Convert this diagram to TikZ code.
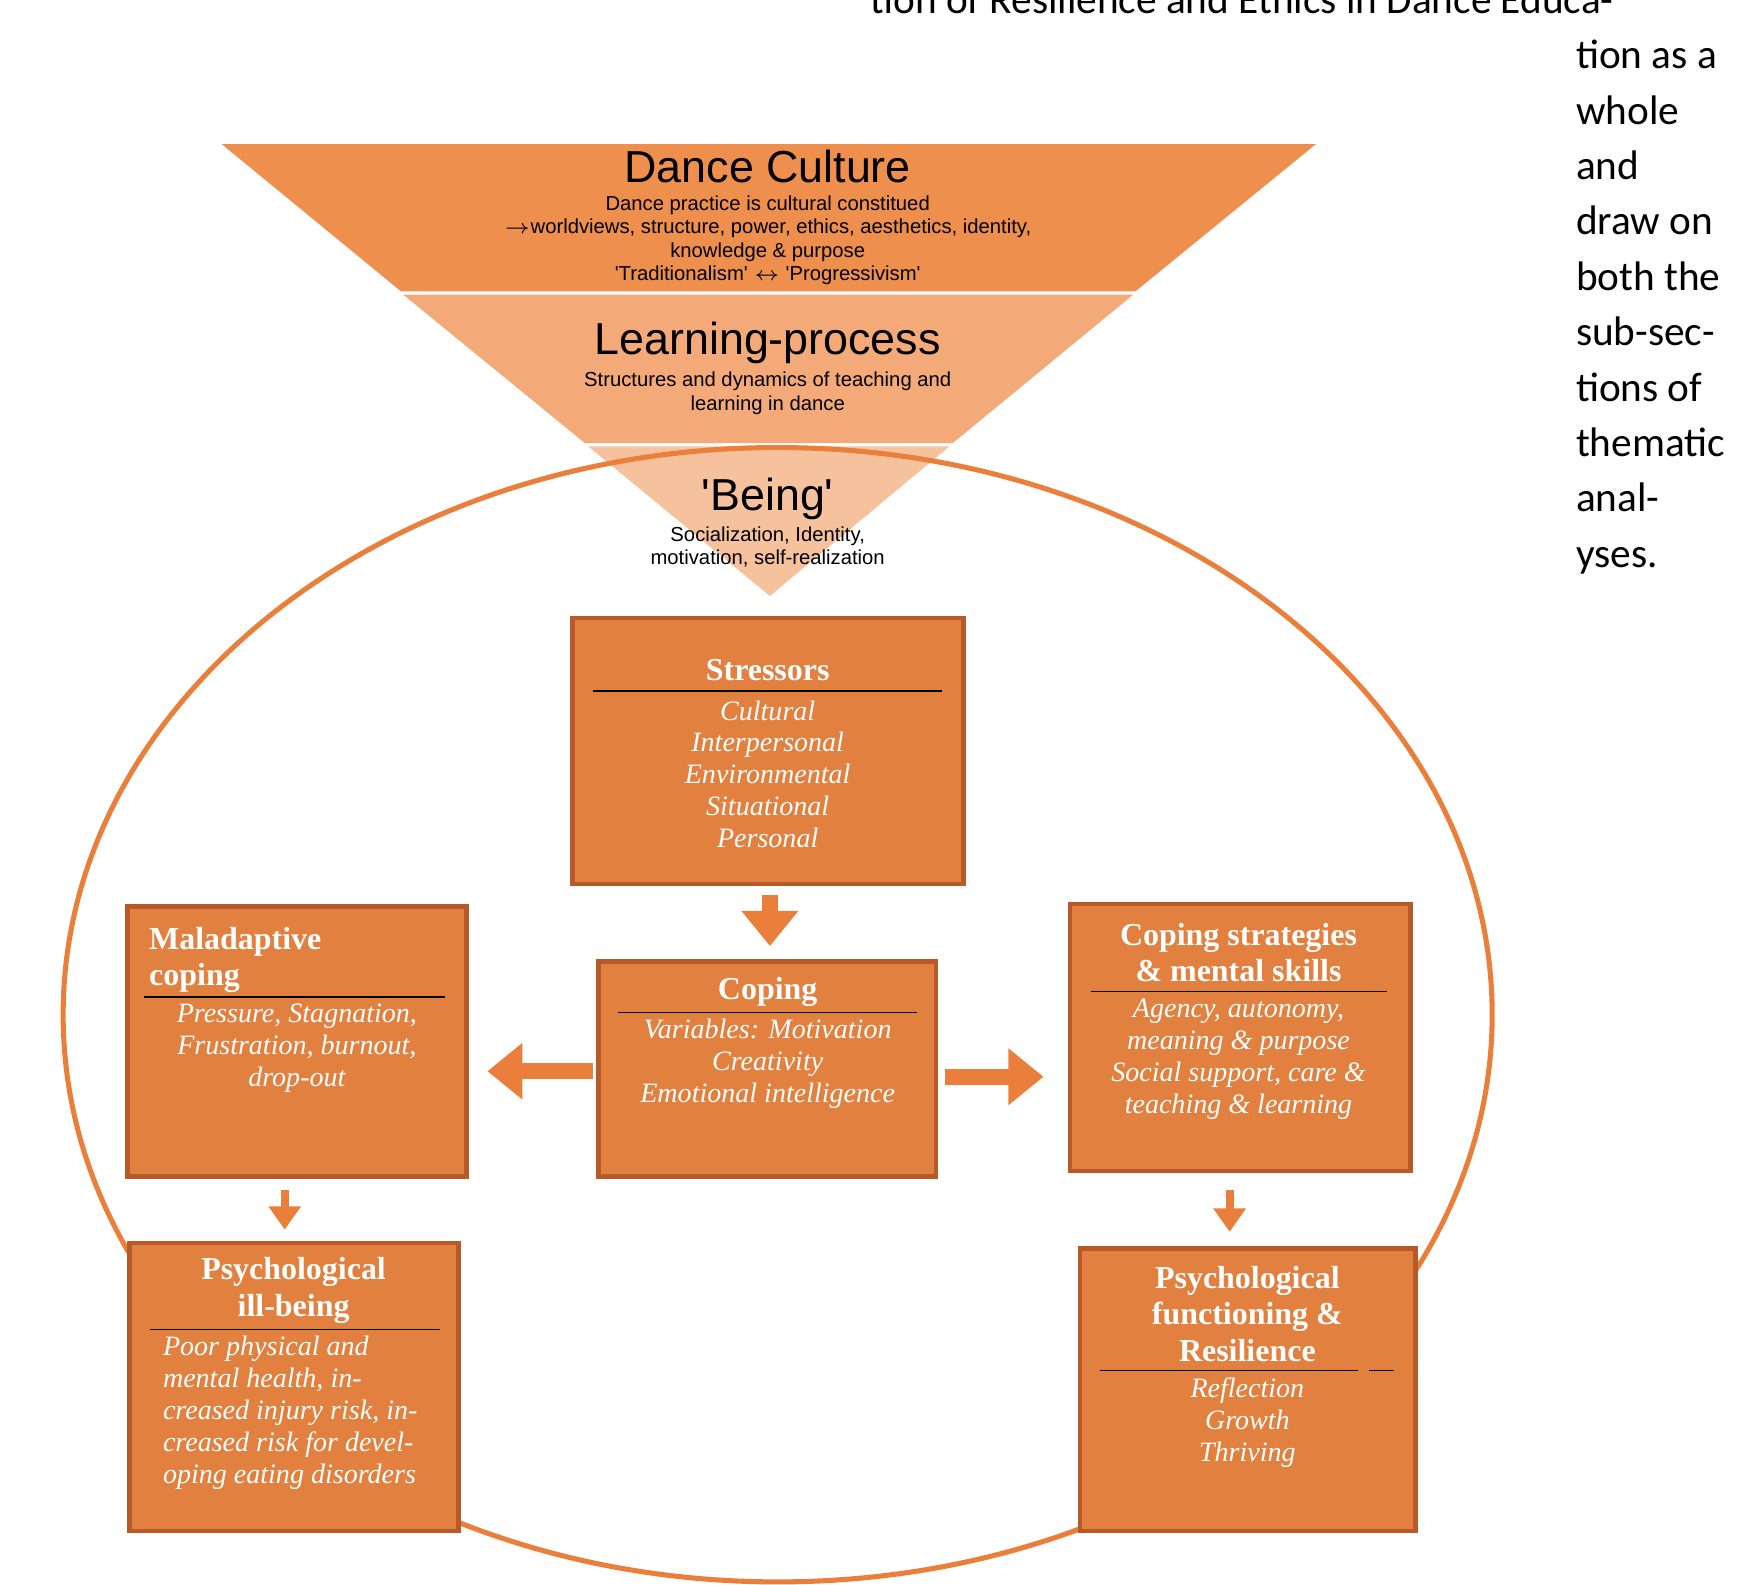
\documentclass[tikz,border=0pt]{standalone}
\usepackage{fontspec}
\setmainfont{Liberation Serif}
\newfontfamily\calfnt{Carlito}
\newfontfamily\ars{Liberation Sans}
\definecolor{boxfill}{HTML}{E2803F}
\definecolor{boxedge}{HTML}{B8592A}
\definecolor{band1}{HTML}{EE8F4E}
\definecolor{band2}{HTML}{F3AA78}
\definecolor{band3}{HTML}{F6C29E}
\definecolor{ring}{HTML}{E97F3A}
\usetikzlibrary{arrows.meta}
\tikzset{
 bx/.style={draw=boxedge,line width=1.2pt,fill=boxfill},
 ttl/.style={text=white,font=\fontsize{8.2}{9.4}\selectfont\bfseries,align=center,inner sep=0},
 itl/.style={text=white,font=\fontsize{7.2}{8.2}\selectfont\itshape,align=center,inner sep=0},
 hd/.style={font=\ars\fontsize{11.5}{13}\selectfont,inner sep=0},
 sm/.style={font=\ars\fontsize{5.2}{6}\selectfont,align=center,inner sep=0},
 rt/.style={font=\calfnt\fontsize{10.6}{14.2}\selectfont,anchor=base west,inner sep=0},
 bigar/.style={ring,line width=4pt,-{Triangle[length=9pt,width=14pt]}},
 thinar/.style={ring,line width=2pt,-{Triangle[length=6pt,width=8pt]}},
}
\begin{document}
\begin{tikzpicture}[x=0.01cm,y=-0.01cm]
\useasboundingbox (0,0) rectangle (1568,1430);
\clip (0,0) rectangle (1568,1430);
% top cut text
\node[rt] (cut) at (785,12) {tion of Resilience and Ethics in Dance Educa-};
\foreach \t [count=\i] in {tion as a,whole,and,draw on,both the,sub-sec-,tions of,thematic,anal-,yses.}
  \node[rt] (r\i) at (1422,50*\i+12) {\t};
% funnel
\fill[band1] (200,130) -- (1188,130) -- (1025,263) -- (362,263) -- cycle;
\fill[band2] (364,266) -- (1023,266) -- (860,400) -- (528,400) -- cycle;
\fill[band3] (531,403) -- (857,403) -- (695,538) -- cycle;
\node[hd] (dc) at (693,150) {Dance Culture};
\node[sm] (dct) at (693,217) {Dance practice is cultural constitued\\$\to$worldviews, structure, power, ethics, aesthetics, identity,\\knowledge \& purpose\\'Traditionalism' $\leftrightarrow$ 'Progressivism'};
\node[hd] (lp) at (693,310) {Learning-process};
\node[sm] (lpt) at (693,355) {Structures and dynamics of teaching and\\learning in dance};
\node[hd] (be) at (693,450) {'Being'};
\node[sm] (bet) at (693,494) {Socialization, Identity,\\motivation, self-realization};
% ellipse
\draw[ring,line width=1.3pt] (702,916) ellipse [x radius=645,y radius=512];
% boxes
\draw[bx] (517,558) rectangle (870,798);
\node[ttl] (st) at (693,605) {Stressors};
\draw (535,624) -- (850,624);
\node[itl] (stt) at (693,699) {Cultural\\Interpersonal\\Environmental\\Situational\\Personal};
\draw[bx] (540,868) rectangle (845,1062);
\node[ttl] (co) at (693,895) {Coping};
\draw (558,914) -- (828,914);
\node[itl] (cot) at (693,960) {Variables: Motivation\\Creativity\\Emotional intelligence};
\draw[bx] (115,818) rectangle (421,1062);
\node[ttl,align=left,anchor=north west] (ma) at (134,836) {Maladaptive\\coping};
\draw (130,900) -- (402,900);
\node[itl] (mat) at (268,946) {Pressure, Stagnation,\\Frustration, burnout,\\drop-out};
\draw[bx] (966,816) rectangle (1273,1057);
\node[ttl] (cs) at (1118,860) {Coping strategies\\\& mental skills};
\draw (985,895) -- (1252,895);
\node[itl] (cst) at (1118,956) {Agency, autonomy,\\meaning \& purpose\\Social support, care \&\\teaching \& learning};
\draw[bx] (117,1122) rectangle (414,1382);
\node[ttl] (pi) at (265,1165) {Psychological\\ill-being};
\draw (135,1200) -- (397,1200);
\node[itl,align=left] (pit) at (262,1275) {Poor physical and\\mental health, in-\\creased injury risk, in-\\creased risk for devel-\\oping eating disorders};
\draw[bx] (975,1127) rectangle (1278,1382);
\node[ttl] (pf) at (1126,1186) {Psychological\\functioning \&\\Resilience};
\draw (993,1237) -- (1226,1237); \draw (1236,1237) -- (1258,1237);
\node[itl] (pft) at (1126,1284) {Reflection\\Growth\\Thriving};
% arrows
\coordinate (a1) at (695,808); \coordinate (a2) at (695,854);
\draw[bigar] (a1) -- (a2);
\coordinate (b1) at (535,967); \coordinate (b2) at (440,967);
\draw[bigar] (b1) -- (b2);
\coordinate (c1) at (853,972); \coordinate (c2) at (942,972);
\draw[bigar] (c1) -- (c2);
\coordinate (d1) at (257,1074); \coordinate (d2) at (257,1110);
\draw[thinar] (d1) -- (d2);
\coordinate (e1) at (1110,1074); \coordinate (e2) at (1110,1112);
\draw[thinar] (e1) -- (e2);
\end{tikzpicture}
\end{document}
